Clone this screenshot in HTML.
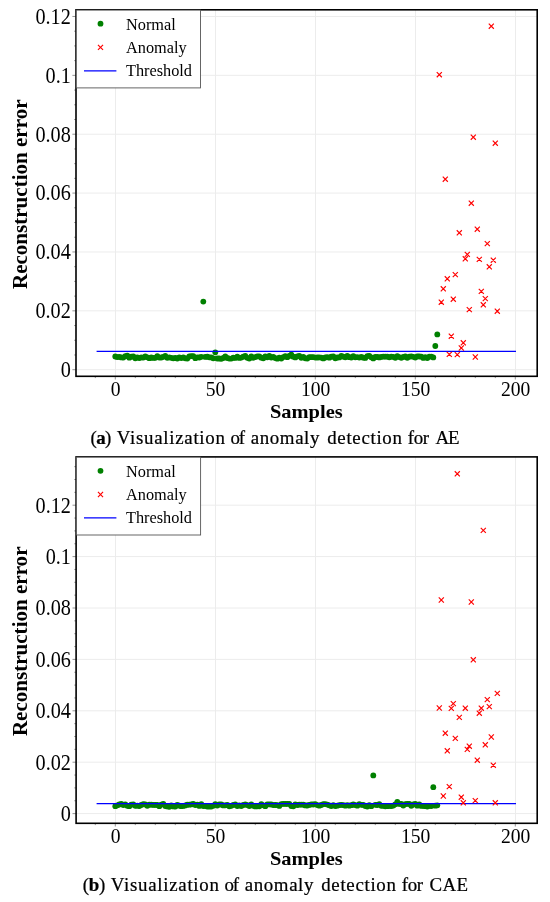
<!DOCTYPE html>
<html><head><meta charset="utf-8"><title>Anomaly detection</title>
<style>
html,body{margin:0;padding:0;background:#fff;}
svg{display:block}
text{font-family:"Liberation Serif",serif;fill:#000}
.tk text{font-size:20.2px}
.lg text{font-size:16.3px}
.cap{stroke:#000;stroke-width:0.22px}
.ax{font-size:19.6px;font-weight:bold}
</style></head><body>
<svg width="550" height="902" viewBox="0 0 550 902">
<rect width="550" height="902" fill="#fff"/>
<path d="M115.5 9.8V376.3M215.5 9.8V376.3M315.5 9.8V376.3M415.5 9.8V376.3M515.5 9.8V376.3M76.0 369.7H537.2M76.0 310.83H537.2M76.0 251.96H537.2M76.0 193.09H537.2M76.0 134.22H537.2M76.0 75.35H537.2M76.0 16.48H537.2" stroke="#ececec" stroke-width="1" fill="none"/>
<g fill="#008000"><circle cx="115.3" cy="356.5" r="2.9"/><circle cx="117.3" cy="357.1" r="2.9"/><circle cx="119.3" cy="356.8" r="2.9"/><circle cx="121.3" cy="357.4" r="2.9"/><circle cx="123.3" cy="357.6" r="2.9"/><circle cx="125.3" cy="356.2" r="2.9"/><circle cx="127.3" cy="355.7" r="2.9"/><circle cx="129.3" cy="357.7" r="2.9"/><circle cx="131.3" cy="356.7" r="2.9"/><circle cx="133.3" cy="356.4" r="2.9"/><circle cx="135.3" cy="358.3" r="2.9"/><circle cx="137.3" cy="357.4" r="2.9"/><circle cx="139.3" cy="358.1" r="2.9"/><circle cx="141.3" cy="357.4" r="2.9"/><circle cx="143.3" cy="357.6" r="2.9"/><circle cx="145.3" cy="356.4" r="2.9"/><circle cx="147.3" cy="357.3" r="2.9"/><circle cx="149.3" cy="358.2" r="2.9"/><circle cx="151.3" cy="357.5" r="2.9"/><circle cx="153.3" cy="357.9" r="2.9"/><circle cx="155.3" cy="357.8" r="2.9"/><circle cx="157.3" cy="356.2" r="2.9"/><circle cx="159.3" cy="357.6" r="2.9"/><circle cx="161.3" cy="357.5" r="2.9"/><circle cx="163.3" cy="356.8" r="2.9"/><circle cx="165.3" cy="355.9" r="2.9"/><circle cx="167.3" cy="357.8" r="2.9"/><circle cx="169.3" cy="357.3" r="2.9"/><circle cx="171.3" cy="357.8" r="2.9"/><circle cx="173.3" cy="358.3" r="2.9"/><circle cx="175.3" cy="358" r="2.9"/><circle cx="177.3" cy="358.5" r="2.9"/><circle cx="179.3" cy="357.3" r="2.9"/><circle cx="181.3" cy="358" r="2.9"/><circle cx="183.3" cy="357.3" r="2.9"/><circle cx="185.3" cy="358.3" r="2.9"/><circle cx="187.3" cy="358.5" r="2.9"/><circle cx="189.3" cy="356.5" r="2.9"/><circle cx="191.3" cy="356.1" r="2.9"/><circle cx="193.3" cy="356.2" r="2.9"/><circle cx="195.3" cy="358.2" r="2.9"/><circle cx="197.3" cy="357.3" r="2.9"/><circle cx="199.3" cy="357.5" r="2.9"/><circle cx="201.3" cy="356.8" r="2.9"/><circle cx="203.3" cy="301.6" r="2.9"/><circle cx="205.3" cy="356.9" r="2.9"/><circle cx="207.3" cy="356.7" r="2.9"/><circle cx="209.3" cy="357.3" r="2.9"/><circle cx="211.3" cy="357.4" r="2.9"/><circle cx="213.3" cy="358.3" r="2.9"/><circle cx="215.3" cy="352.3" r="2.9"/><circle cx="217.3" cy="358.5" r="2.9"/><circle cx="219.3" cy="358.5" r="2.9"/><circle cx="221.3" cy="358.8" r="2.9"/><circle cx="223.3" cy="358" r="2.9"/><circle cx="225.3" cy="356.5" r="2.9"/><circle cx="227.3" cy="358" r="2.9"/><circle cx="229.3" cy="358.6" r="2.9"/><circle cx="231.3" cy="358.6" r="2.9"/><circle cx="233.3" cy="357.7" r="2.9"/><circle cx="235.3" cy="357.9" r="2.9"/><circle cx="237.3" cy="356.6" r="2.9"/><circle cx="239.3" cy="357.9" r="2.9"/><circle cx="241.3" cy="357.6" r="2.9"/><circle cx="243.3" cy="356.7" r="2.9"/><circle cx="245.3" cy="355.9" r="2.9"/><circle cx="247.3" cy="357.8" r="2.9"/><circle cx="249.3" cy="358.6" r="2.9"/><circle cx="251.3" cy="356.5" r="2.9"/><circle cx="253.3" cy="357.8" r="2.9"/><circle cx="255.3" cy="357.1" r="2.9"/><circle cx="257.3" cy="356.3" r="2.9"/><circle cx="259.3" cy="356.4" r="2.9"/><circle cx="261.3" cy="357.7" r="2.9"/><circle cx="263.3" cy="358.3" r="2.9"/><circle cx="265.3" cy="356.3" r="2.9"/><circle cx="267.3" cy="357.3" r="2.9"/><circle cx="269.3" cy="356" r="2.9"/><circle cx="271.3" cy="357.5" r="2.9"/><circle cx="273.3" cy="356.8" r="2.9"/><circle cx="275.3" cy="358.1" r="2.9"/><circle cx="277.3" cy="358.7" r="2.9"/><circle cx="279.3" cy="357.6" r="2.9"/><circle cx="281.3" cy="358.6" r="2.9"/><circle cx="283.3" cy="357.1" r="2.9"/><circle cx="285.3" cy="356.1" r="2.9"/><circle cx="287.3" cy="357.2" r="2.9"/><circle cx="289.3" cy="356" r="2.9"/><circle cx="291.3" cy="354.6" r="2.9"/><circle cx="293.3" cy="356.7" r="2.9"/><circle cx="295.3" cy="357.4" r="2.9"/><circle cx="297.3" cy="356.3" r="2.9"/><circle cx="299.3" cy="355.8" r="2.9"/><circle cx="301.3" cy="357.8" r="2.9"/><circle cx="303.3" cy="356.9" r="2.9"/><circle cx="305.3" cy="358.3" r="2.9"/><circle cx="307.3" cy="358.5" r="2.9"/><circle cx="309.3" cy="357.2" r="2.9"/><circle cx="311.3" cy="357.1" r="2.9"/><circle cx="313.3" cy="357.2" r="2.9"/><circle cx="315.3" cy="357.6" r="2.9"/><circle cx="317.3" cy="357.5" r="2.9"/><circle cx="319.3" cy="357.4" r="2.9"/><circle cx="321.3" cy="357.6" r="2.9"/><circle cx="323.3" cy="358.4" r="2.9"/><circle cx="325.3" cy="357.5" r="2.9"/><circle cx="327.3" cy="357.1" r="2.9"/><circle cx="329.3" cy="357.7" r="2.9"/><circle cx="331.3" cy="356.7" r="2.9"/><circle cx="333.3" cy="356.5" r="2.9"/><circle cx="335.3" cy="358.3" r="2.9"/><circle cx="337.3" cy="357.5" r="2.9"/><circle cx="339.3" cy="357.4" r="2.9"/><circle cx="341.3" cy="356" r="2.9"/><circle cx="343.3" cy="356.7" r="2.9"/><circle cx="345.3" cy="357.3" r="2.9"/><circle cx="347.3" cy="356" r="2.9"/><circle cx="349.3" cy="357.2" r="2.9"/><circle cx="351.3" cy="357.5" r="2.9"/><circle cx="353.3" cy="356.1" r="2.9"/><circle cx="355.3" cy="357.3" r="2.9"/><circle cx="357.3" cy="357.1" r="2.9"/><circle cx="359.3" cy="357.6" r="2.9"/><circle cx="361.3" cy="356.9" r="2.9"/><circle cx="363.3" cy="357.7" r="2.9"/><circle cx="365.3" cy="357.9" r="2.9"/><circle cx="367.3" cy="356.1" r="2.9"/><circle cx="369.3" cy="355.8" r="2.9"/><circle cx="371.3" cy="357.3" r="2.9"/><circle cx="373.3" cy="358.4" r="2.9"/><circle cx="375.3" cy="356.9" r="2.9"/><circle cx="377.3" cy="357" r="2.9"/><circle cx="379.3" cy="357.4" r="2.9"/><circle cx="381.3" cy="356.8" r="2.9"/><circle cx="383.3" cy="356.7" r="2.9"/><circle cx="385.3" cy="356.6" r="2.9"/><circle cx="387.3" cy="356.7" r="2.9"/><circle cx="389.3" cy="357.3" r="2.9"/><circle cx="391.3" cy="356.7" r="2.9"/><circle cx="393.3" cy="356.8" r="2.9"/><circle cx="395.3" cy="357.8" r="2.9"/><circle cx="397.3" cy="356.1" r="2.9"/><circle cx="399.3" cy="357.1" r="2.9"/><circle cx="401.3" cy="357.8" r="2.9"/><circle cx="403.3" cy="356.9" r="2.9"/><circle cx="405.3" cy="356.4" r="2.9"/><circle cx="407.3" cy="357.8" r="2.9"/><circle cx="409.3" cy="356.7" r="2.9"/><circle cx="411.3" cy="356.3" r="2.9"/><circle cx="413.3" cy="356.8" r="2.9"/><circle cx="415.3" cy="357.6" r="2.9"/><circle cx="417.3" cy="356.3" r="2.9"/><circle cx="419.3" cy="356.5" r="2.9"/><circle cx="421.3" cy="356.6" r="2.9"/><circle cx="423.3" cy="357.9" r="2.9"/><circle cx="425.3" cy="357.2" r="2.9"/><circle cx="427.3" cy="358.1" r="2.9"/><circle cx="429.3" cy="356.6" r="2.9"/><circle cx="431.3" cy="356.6" r="2.9"/><circle cx="433.3" cy="357.4" r="2.9"/><circle cx="435.3" cy="346" r="2.9"/><circle cx="437.3" cy="334.4" r="2.9"/></g>
<path d="M96.6 351.4H516" stroke="#0000ff" stroke-width="1.3" fill="none"/>
<path d="M436.75 72.15L441.85 77.25M436.75 77.25L441.85 72.15M438.75 299.65L443.85 304.75M438.75 304.75L443.85 299.65M440.75 286.25L445.85 291.35M440.75 291.35L445.85 286.25M442.75 176.65L447.85 181.75M442.75 181.75L447.85 176.65M444.75 276.25L449.85 281.35M444.75 281.35L449.85 276.25M446.75 351.85L451.85 356.95M446.75 356.95L451.85 351.85M448.75 333.65L453.85 338.75M448.75 338.75L453.85 333.65M450.75 296.65L455.85 301.75M450.75 301.75L455.85 296.65M452.75 272.05L457.85 277.15M452.75 277.15L457.85 272.05M454.75 352.05L459.85 357.15M454.75 357.15L459.85 352.05M456.75 230.25L461.85 235.35M456.75 235.35L461.85 230.25M458.75 345.45L463.85 350.55M458.75 350.55L463.85 345.45M460.75 340.25L465.85 345.35M460.75 345.35L465.85 340.25M462.75 256.25L467.85 261.35M462.75 261.35L467.85 256.25M464.75 251.85L469.85 256.95M464.75 256.95L469.85 251.85M466.75 307.05L471.85 312.15M466.75 312.15L471.85 307.05M468.75 200.65L473.85 205.75M468.75 205.75L473.85 200.65M470.75 134.65L475.85 139.75M470.75 139.75L475.85 134.65M472.75 354.45L477.85 359.55M472.75 359.55L477.85 354.45M474.75 226.65L479.85 231.75M474.75 231.75L479.85 226.65M476.75 256.85L481.85 261.95M476.75 261.95L481.85 256.85M478.75 288.85L483.85 293.95M478.75 293.95L483.85 288.85M480.75 302.25L485.85 307.35M480.75 307.35L485.85 302.25M482.75 296.05L487.85 301.15M482.75 301.15L487.85 296.05M484.75 241.05L489.85 246.15M484.75 246.15L489.85 241.05M486.75 264.25L491.85 269.35M486.75 269.35L491.85 264.25M488.75 23.65L493.85 28.75M488.75 28.75L493.85 23.65M490.75 257.65L495.85 262.75M490.75 262.75L495.85 257.65M492.75 140.65L497.85 145.75M492.75 145.75L497.85 140.65M494.75 308.65L499.85 313.75M494.75 313.75L499.85 308.65" stroke="#ff0000" stroke-width="1.15" fill="none"/>
<path d="M95.3 376.3v1.8M115.3 376.3v3.2M135.3 376.3v1.8M155.3 376.3v1.8M175.3 376.3v1.8M195.3 376.3v1.8M215.3 376.3v3.2M235.3 376.3v1.8M255.3 376.3v1.8M275.3 376.3v1.8M295.3 376.3v1.8M315.3 376.3v3.2M335.3 376.3v1.8M355.3 376.3v1.8M375.3 376.3v1.8M395.3 376.3v1.8M415.3 376.3v3.2M435.3 376.3v1.8M455.3 376.3v1.8M475.3 376.3v1.8M495.3 376.3v1.8M515.3 376.3v3.2M76.0 369.7h-3.6M76.0 354.98h-1.8M76.0 340.26h-1.8M76.0 325.55h-1.8M76.0 310.83h-3.6M76.0 296.11h-1.8M76.0 281.39h-1.8M76.0 266.68h-1.8M76.0 251.96h-3.6M76.0 237.24h-1.8M76.0 222.53h-1.8M76.0 207.81h-1.8M76.0 193.09h-3.6M76.0 178.37h-1.8M76.0 163.65h-1.8M76.0 148.94h-1.8M76.0 134.22h-3.6M76.0 119.5h-1.8M76.0 104.79h-1.8M76.0 90.07h-1.8M76.0 75.35h-3.6M76.0 60.63h-1.8M76.0 45.92h-1.8M76.0 31.2h-1.8M76.0 16.48h-3.6" stroke="#666" stroke-width="0.7" fill="none"/>
<rect x="76.0" y="9.8" width="461.20000000000005" height="366.5" fill="none" stroke="#000" stroke-width="1.6"/>
<rect x="76.3" y="10.100000000000001" width="124.2" height="77.8" fill="#fff" stroke="#555" stroke-width="0.9"/>
<circle cx="100.5" cy="23.7" r="2.9" fill="#008000"/>
<path d="M97.95 44.85L103.05 49.95M97.95 49.95L103.05 44.85" stroke="#ff0000" stroke-width="1.15" fill="none"/>
<path d="M84 70.8H116.4" stroke="#0000ff" stroke-width="1.3" fill="none"/>
<g class="lg"><text x="126" y="29.7">Normal</text><text x="126" y="52.8">Anomaly</text><text x="126" y="76.2">Threshold</text></g>
<g class="tk"><text style="font-size:19.6px" transform="translate(115.6 396.2) scale(1 1.115)" text-anchor="middle">0</text><text style="font-size:19.6px" transform="translate(215.6 396.2) scale(1 1.115)" text-anchor="middle">50</text><text style="font-size:19.6px" transform="translate(315.6 396.2) scale(1 1.115)" text-anchor="middle">100</text><text style="font-size:19.6px" transform="translate(415.6 396.2) scale(1 1.115)" text-anchor="middle">150</text><text style="font-size:19.6px" transform="translate(515.6 396.2) scale(1 1.115)" text-anchor="middle">200</text><text transform="translate(70.8 377.1) scale(1 1.095)" text-anchor="end">0</text><text transform="translate(70.8 318.23) scale(1 1.095)" text-anchor="end">0.02</text><text transform="translate(70.8 259.36) scale(1 1.095)" text-anchor="end">0.04</text><text transform="translate(70.8 200.49) scale(1 1.095)" text-anchor="end">0.06</text><text transform="translate(70.8 141.62) scale(1 1.095)" text-anchor="end">0.08</text><text transform="translate(70.8 82.75) scale(1 1.095)" text-anchor="end">0.1</text><text transform="translate(70.8 23.88) scale(1 1.095)" text-anchor="end">0.12</text></g>
<text class="ax" transform="translate(306.3 417.8) scale(1.045 1)" text-anchor="middle">Samples</text>
<text class="ax" style="font-size:21.05px" transform="translate(26.9 194.25) rotate(-90)" text-anchor="middle">Reconstruction error</text>
<text class="cap" y="443.5" font-size="18.9"><tspan x="90.6" letter-spacing="-0.72">(<tspan font-weight="bold">a</tspan>)</tspan> <tspan x="116.8" letter-spacing="0.71">Visualization</tspan> <tspan x="230.4" letter-spacing="-1.14">of</tspan> <tspan x="250.8" letter-spacing="0.59">anomaly</tspan> <tspan x="327.2" letter-spacing="0.69">detection</tspan> <tspan x="407.8" letter-spacing="-0.42">for</tspan> <tspan x="435.4" letter-spacing="-0.99">AE</tspan></text>
<path d="M115.5 456.9V823.3M215.5 456.9V823.3M315.5 456.9V823.3M415.5 456.9V823.3M515.5 456.9V823.3M76.1 813.6H537.2M76.1 762.2H537.2M76.1 710.8H537.2M76.1 659.4H537.2M76.1 608H537.2M76.1 556.6H537.2M76.1 505.2H537.2" stroke="#ececec" stroke-width="1" fill="none"/>
<g fill="#008000"><circle cx="115.3" cy="806.2" r="2.9"/><circle cx="117.3" cy="805.3" r="2.9"/><circle cx="119.3" cy="804.5" r="2.9"/><circle cx="121.3" cy="804" r="2.9"/><circle cx="123.3" cy="805" r="2.9"/><circle cx="125.3" cy="804.3" r="2.9"/><circle cx="127.3" cy="805.8" r="2.9"/><circle cx="129.3" cy="806.2" r="2.9"/><circle cx="131.3" cy="804.6" r="2.9"/><circle cx="133.3" cy="804.5" r="2.9"/><circle cx="135.3" cy="805.8" r="2.9"/><circle cx="137.3" cy="805.7" r="2.9"/><circle cx="139.3" cy="806.1" r="2.9"/><circle cx="141.3" cy="805" r="2.9"/><circle cx="143.3" cy="804.2" r="2.9"/><circle cx="145.3" cy="804.4" r="2.9"/><circle cx="147.3" cy="805.8" r="2.9"/><circle cx="149.3" cy="804.7" r="2.9"/><circle cx="151.3" cy="804.7" r="2.9"/><circle cx="153.3" cy="804.9" r="2.9"/><circle cx="155.3" cy="804.9" r="2.9"/><circle cx="157.3" cy="804.9" r="2.9"/><circle cx="159.3" cy="806.2" r="2.9"/><circle cx="161.3" cy="804.6" r="2.9"/><circle cx="163.3" cy="803.8" r="2.9"/><circle cx="165.3" cy="806" r="2.9"/><circle cx="167.3" cy="806.4" r="2.9"/><circle cx="169.3" cy="806.8" r="2.9"/><circle cx="171.3" cy="805.4" r="2.9"/><circle cx="173.3" cy="806.4" r="2.9"/><circle cx="175.3" cy="806.6" r="2.9"/><circle cx="177.3" cy="804.8" r="2.9"/><circle cx="179.3" cy="805.7" r="2.9"/><circle cx="181.3" cy="806.2" r="2.9"/><circle cx="183.3" cy="805.9" r="2.9"/><circle cx="185.3" cy="805.4" r="2.9"/><circle cx="187.3" cy="804.7" r="2.9"/><circle cx="189.3" cy="804.7" r="2.9"/><circle cx="191.3" cy="804.4" r="2.9"/><circle cx="193.3" cy="803.9" r="2.9"/><circle cx="195.3" cy="805.1" r="2.9"/><circle cx="197.3" cy="804.6" r="2.9"/><circle cx="199.3" cy="805.9" r="2.9"/><circle cx="201.3" cy="804.2" r="2.9"/><circle cx="203.3" cy="806" r="2.9"/><circle cx="205.3" cy="805.9" r="2.9"/><circle cx="207.3" cy="806.5" r="2.9"/><circle cx="209.3" cy="806.6" r="2.9"/><circle cx="211.3" cy="806.6" r="2.9"/><circle cx="213.3" cy="805.7" r="2.9"/><circle cx="215.3" cy="804.1" r="2.9"/><circle cx="217.3" cy="805.6" r="2.9"/><circle cx="219.3" cy="804.4" r="2.9"/><circle cx="221.3" cy="804.5" r="2.9"/><circle cx="223.3" cy="805.4" r="2.9"/><circle cx="225.3" cy="805.3" r="2.9"/><circle cx="227.3" cy="805" r="2.9"/><circle cx="229.3" cy="806.3" r="2.9"/><circle cx="231.3" cy="805.8" r="2.9"/><circle cx="233.3" cy="804.9" r="2.9"/><circle cx="235.3" cy="804.5" r="2.9"/><circle cx="237.3" cy="806" r="2.9"/><circle cx="239.3" cy="805.3" r="2.9"/><circle cx="241.3" cy="806" r="2.9"/><circle cx="243.3" cy="805" r="2.9"/><circle cx="245.3" cy="804.4" r="2.9"/><circle cx="247.3" cy="805.1" r="2.9"/><circle cx="249.3" cy="806" r="2.9"/><circle cx="251.3" cy="804.5" r="2.9"/><circle cx="253.3" cy="805.8" r="2.9"/><circle cx="255.3" cy="806.4" r="2.9"/><circle cx="257.3" cy="806.3" r="2.9"/><circle cx="259.3" cy="806.3" r="2.9"/><circle cx="261.3" cy="804.2" r="2.9"/><circle cx="263.3" cy="805.3" r="2.9"/><circle cx="265.3" cy="806.2" r="2.9"/><circle cx="267.3" cy="804.3" r="2.9"/><circle cx="269.3" cy="804.4" r="2.9"/><circle cx="271.3" cy="804.4" r="2.9"/><circle cx="273.3" cy="805.1" r="2.9"/><circle cx="275.3" cy="805" r="2.9"/><circle cx="277.3" cy="805.1" r="2.9"/><circle cx="279.3" cy="805.9" r="2.9"/><circle cx="281.3" cy="804.1" r="2.9"/><circle cx="283.3" cy="803.8" r="2.9"/><circle cx="285.3" cy="803.9" r="2.9"/><circle cx="287.3" cy="803.9" r="2.9"/><circle cx="289.3" cy="803.8" r="2.9"/><circle cx="291.3" cy="806.1" r="2.9"/><circle cx="293.3" cy="806.3" r="2.9"/><circle cx="295.3" cy="804.4" r="2.9"/><circle cx="297.3" cy="805" r="2.9"/><circle cx="299.3" cy="804.7" r="2.9"/><circle cx="301.3" cy="804.6" r="2.9"/><circle cx="303.3" cy="804.7" r="2.9"/><circle cx="305.3" cy="805.4" r="2.9"/><circle cx="307.3" cy="805.5" r="2.9"/><circle cx="309.3" cy="804.9" r="2.9"/><circle cx="311.3" cy="804.3" r="2.9"/><circle cx="313.3" cy="804.5" r="2.9"/><circle cx="315.3" cy="804.1" r="2.9"/><circle cx="317.3" cy="805.1" r="2.9"/><circle cx="319.3" cy="805.7" r="2.9"/><circle cx="321.3" cy="805" r="2.9"/><circle cx="323.3" cy="804.1" r="2.9"/><circle cx="325.3" cy="804.1" r="2.9"/><circle cx="327.3" cy="804.6" r="2.9"/><circle cx="329.3" cy="805.3" r="2.9"/><circle cx="331.3" cy="806" r="2.9"/><circle cx="333.3" cy="805.1" r="2.9"/><circle cx="335.3" cy="806" r="2.9"/><circle cx="337.3" cy="805.7" r="2.9"/><circle cx="339.3" cy="805.1" r="2.9"/><circle cx="341.3" cy="804.9" r="2.9"/><circle cx="343.3" cy="805.1" r="2.9"/><circle cx="345.3" cy="805.7" r="2.9"/><circle cx="347.3" cy="805.1" r="2.9"/><circle cx="349.3" cy="805.7" r="2.9"/><circle cx="351.3" cy="805.2" r="2.9"/><circle cx="353.3" cy="804.5" r="2.9"/><circle cx="355.3" cy="805.1" r="2.9"/><circle cx="357.3" cy="805.7" r="2.9"/><circle cx="359.3" cy="804.2" r="2.9"/><circle cx="361.3" cy="804.8" r="2.9"/><circle cx="363.3" cy="804.9" r="2.9"/><circle cx="365.3" cy="806.1" r="2.9"/><circle cx="367.3" cy="806.6" r="2.9"/><circle cx="369.3" cy="805.2" r="2.9"/><circle cx="371.3" cy="806.2" r="2.9"/><circle cx="373.3" cy="775.4" r="2.9"/><circle cx="375.3" cy="804.8" r="2.9"/><circle cx="377.3" cy="805" r="2.9"/><circle cx="379.3" cy="804.2" r="2.9"/><circle cx="381.3" cy="805.8" r="2.9"/><circle cx="383.3" cy="805.8" r="2.9"/><circle cx="385.3" cy="806.3" r="2.9"/><circle cx="387.3" cy="806.2" r="2.9"/><circle cx="389.3" cy="805.9" r="2.9"/><circle cx="391.3" cy="806" r="2.9"/><circle cx="393.3" cy="805.6" r="2.9"/><circle cx="395.3" cy="804.3" r="2.9"/><circle cx="397.3" cy="802" r="2.9"/><circle cx="399.3" cy="803.9" r="2.9"/><circle cx="401.3" cy="804" r="2.9"/><circle cx="403.3" cy="805.6" r="2.9"/><circle cx="405.3" cy="804.1" r="2.9"/><circle cx="407.3" cy="803.9" r="2.9"/><circle cx="409.3" cy="803.8" r="2.9"/><circle cx="411.3" cy="805.8" r="2.9"/><circle cx="413.3" cy="804.5" r="2.9"/><circle cx="415.3" cy="803.8" r="2.9"/><circle cx="417.3" cy="805.7" r="2.9"/><circle cx="419.3" cy="804.3" r="2.9"/><circle cx="421.3" cy="805.9" r="2.9"/><circle cx="423.3" cy="805.8" r="2.9"/><circle cx="425.3" cy="806.2" r="2.9"/><circle cx="427.3" cy="806.6" r="2.9"/><circle cx="429.3" cy="805.8" r="2.9"/><circle cx="431.3" cy="806.1" r="2.9"/><circle cx="433.3" cy="787.2" r="2.9"/><circle cx="435.3" cy="805.7" r="2.9"/><circle cx="437.3" cy="805.3" r="2.9"/></g>
<path d="M96.6 803.7H516" stroke="#0000ff" stroke-width="1.3" fill="none"/>
<path d="M436.75 705.45L441.85 710.55M436.75 710.55L441.85 705.45M438.75 597.45L443.85 602.55M438.75 602.55L443.85 597.45M440.75 793.45L445.85 798.55M440.75 798.55L445.85 793.45M442.75 730.65L447.85 735.75M442.75 735.75L447.85 730.65M444.75 748.25L449.85 753.35M444.75 753.35L449.85 748.25M446.75 784.05L451.85 789.15M446.75 789.15L451.85 784.05M448.75 705.85L453.85 710.95M448.75 710.95L453.85 705.85M450.75 701.05L455.85 706.15M450.75 706.15L455.85 701.05M452.75 735.85L457.85 740.95M452.75 740.95L457.85 735.85M454.75 471.25L459.85 476.35M454.75 476.35L459.85 471.25M456.75 714.85L461.85 719.95M456.75 719.95L461.85 714.85M458.75 794.65L463.85 799.75M458.75 799.75L463.85 794.65M460.75 800.25L465.85 805.35M460.75 805.35L465.85 800.25M462.75 705.65L467.85 710.75M462.75 710.75L467.85 705.65M464.75 746.85L469.85 751.95M464.75 751.95L469.85 746.85M466.75 743.65L471.85 748.75M466.75 748.75L471.85 743.65M468.75 599.45L473.85 604.55M468.75 604.55L473.85 599.45M470.75 657.25L475.85 662.35M470.75 662.35L475.85 657.25M472.75 798.05L477.85 803.15M472.75 803.15L477.85 798.05M474.75 757.65L479.85 762.75M474.75 762.75L479.85 757.65M476.75 710.65L481.85 715.75M476.75 715.75L481.85 710.65M478.75 705.65L483.85 710.75M478.75 710.75L483.85 705.65M480.75 527.85L485.85 532.95M480.75 532.95L485.85 527.85M482.75 742.25L487.85 747.35M482.75 747.35L487.85 742.25M484.75 697.05L489.85 702.15M484.75 702.15L489.85 697.05M486.75 704.05L491.85 709.15M486.75 709.15L491.85 704.05M488.75 734.45L493.85 739.55M488.75 739.55L493.85 734.45M490.75 762.65L495.85 767.75M490.75 767.75L495.85 762.65M492.75 800.25L497.85 805.35M492.75 805.35L497.85 800.25M494.75 690.85L499.85 695.95M494.75 695.95L499.85 690.85" stroke="#ff0000" stroke-width="1.15" fill="none"/>
<path d="M95.3 823.3v1.8M115.3 823.3v3.2M135.3 823.3v1.8M155.3 823.3v1.8M175.3 823.3v1.8M195.3 823.3v1.8M215.3 823.3v3.2M235.3 823.3v1.8M255.3 823.3v1.8M275.3 823.3v1.8M295.3 823.3v1.8M315.3 823.3v3.2M335.3 823.3v1.8M355.3 823.3v1.8M375.3 823.3v1.8M395.3 823.3v1.8M415.3 823.3v3.2M435.3 823.3v1.8M455.3 823.3v1.8M475.3 823.3v1.8M495.3 823.3v1.8M515.3 823.3v3.2M76.1 813.6h-3.6M76.1 800.75h-1.8M76.1 787.9h-1.8M76.1 775.05h-1.8M76.1 762.2h-3.6M76.1 749.35h-1.8M76.1 736.5h-1.8M76.1 723.65h-1.8M76.1 710.8h-3.6M76.1 697.95h-1.8M76.1 685.1h-1.8M76.1 672.25h-1.8M76.1 659.4h-3.6M76.1 646.55h-1.8M76.1 633.7h-1.8M76.1 620.85h-1.8M76.1 608h-3.6M76.1 595.15h-1.8M76.1 582.3h-1.8M76.1 569.45h-1.8M76.1 556.6h-3.6M76.1 543.75h-1.8M76.1 530.9h-1.8M76.1 518.05h-1.8M76.1 505.2h-3.6M76.1 492.35h-1.8M76.1 479.5h-1.8M76.1 466.65h-1.8" stroke="#666" stroke-width="0.7" fill="none"/>
<rect x="76.1" y="456.9" width="461.1" height="366.4" fill="none" stroke="#000" stroke-width="1.6"/>
<rect x="76.39999999999999" y="457.2" width="124.2" height="77.8" fill="#fff" stroke="#555" stroke-width="0.9"/>
<circle cx="100.5" cy="470.8" r="2.9" fill="#008000"/>
<path d="M97.95 491.95L103.05 497.05M97.95 497.05L103.05 491.95" stroke="#ff0000" stroke-width="1.15" fill="none"/>
<path d="M84 517.9H116.4" stroke="#0000ff" stroke-width="1.3" fill="none"/>
<g class="lg"><text x="126" y="476.8">Normal</text><text x="126" y="499.9">Anomaly</text><text x="126" y="523.3">Threshold</text></g>
<g class="tk"><text style="font-size:19.6px" transform="translate(115.6 843.3) scale(1 1.115)" text-anchor="middle">0</text><text style="font-size:19.6px" transform="translate(215.6 843.3) scale(1 1.115)" text-anchor="middle">50</text><text style="font-size:19.6px" transform="translate(315.6 843.3) scale(1 1.115)" text-anchor="middle">100</text><text style="font-size:19.6px" transform="translate(415.6 843.3) scale(1 1.115)" text-anchor="middle">150</text><text style="font-size:19.6px" transform="translate(515.6 843.3) scale(1 1.115)" text-anchor="middle">200</text><text transform="translate(70.9 821) scale(1 1.095)" text-anchor="end">0</text><text transform="translate(70.9 769.6) scale(1 1.095)" text-anchor="end">0.02</text><text transform="translate(70.9 718.2) scale(1 1.095)" text-anchor="end">0.04</text><text transform="translate(70.9 666.8) scale(1 1.095)" text-anchor="end">0.06</text><text transform="translate(70.9 615.4) scale(1 1.095)" text-anchor="end">0.08</text><text transform="translate(70.9 564) scale(1 1.095)" text-anchor="end">0.1</text><text transform="translate(70.9 512.6) scale(1 1.095)" text-anchor="end">0.12</text></g>
<text class="ax" transform="translate(306.3 865.3) scale(1.045 1)" text-anchor="middle">Samples</text>
<text class="ax" style="font-size:21.05px" transform="translate(26.9 641.3) rotate(-90)" text-anchor="middle">Reconstruction error</text>
<text class="cap" y="891.2" font-size="18.9"><tspan x="82.8" letter-spacing="-0.25">(<tspan font-weight="bold">b</tspan>)</tspan> <tspan x="110.8" letter-spacing="0.71">Visualization</tspan> <tspan x="224.4" letter-spacing="-1.14">of</tspan> <tspan x="244.8" letter-spacing="0.59">anomaly</tspan> <tspan x="321.2" letter-spacing="0.69">detection</tspan> <tspan x="401.8" letter-spacing="-0.42">for</tspan> <tspan x="429.6" letter-spacing="0.30">CAE</tspan></text>
</svg>
</body></html>
